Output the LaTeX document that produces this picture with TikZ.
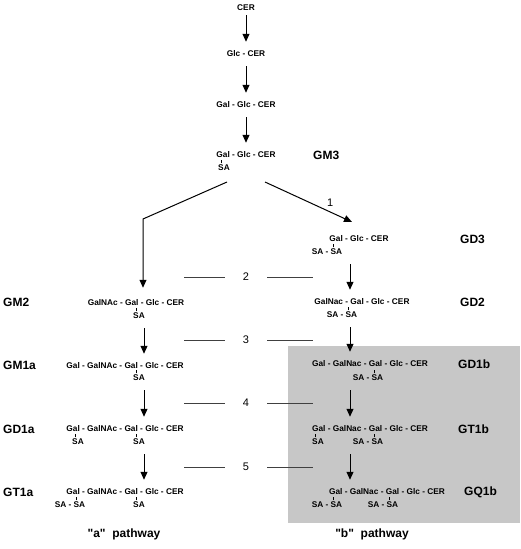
\documentclass[tikz,border=0pt]{standalone}
\usepackage{fontspec}
\setmainfont{Liberation Sans}
\usetikzlibrary{arrows.meta}
\definecolor{boxgray}{RGB}{199,199,199}
\tikzset{
  sugar/.style={font=\bfseries\fontsize{8.3}{9}\selectfont, inner sep=0pt},
  gname/.style={font=\bfseries\fontsize{12}{14}\selectfont, inner sep=0pt, anchor=west},
  num/.style={font=\fontsize{11}{13}\selectfont, inner sep=0pt},
  arr/.style={line width=1pt, -{Triangle[width=7pt,length=8pt]}, shorten <=9pt, shorten >=9pt},
  rule/.style={line width=.9pt, black!75},
  bond/.style={line width=.6pt}
}
\begin{document}
\begin{tikzpicture}[x=1pt,y=-1pt]
    \useasboundingbox (0,0) rectangle (520,549);
    \fill[boxgray] (288,346) rectangle (520,523);
    \coordinate (colA) at (144,0);
    \coordinate (colB) at (350,0);
    % common trunk
    \node[sugar] (cer) at (246,8) {CER};
    \node[sugar] (glc) at (246,54) {Glc - CER};
    \node[sugar] (lac) at (246,105) {Gal - Glc - CER};
    \node[sugar] (gm3) at (246,155) {Gal - Glc - CER};
    \node[sugar] (gm3sa) at (224,168) {SA};
    \node[gname] (gm3n) at (313,155) {GM3};
    \draw[arr, shorten <=4pt] (cer) -- (glc);
    \draw[arr] (glc) -- (lac);
    \draw[arr] (lac) -- (gm3);
    \draw[bond] ([shift={(2.8pt,1.5pt)}]gm3sa.north west) -- ++(0,-3.5);
    % "a" pathway
    \node[sugar] (gm2) at (136,303) {GalNAc - Gal - Glc - CER};
    \node[sugar] (gm2sa) at (139,316) {SA};
    \node[gname] (gm2n) at (3,302) {GM2};
    \node[sugar] (gm1a) at (125,366) {Gal - GalNAc - Gal - Glc - CER};
    \node[sugar] (gm1asa) at (139,378) {SA};
    \node[gname] (gm1an) at (3,365) {GM1a};
    \node[sugar] (gd1a) at (125,429) {Gal - GalNAc - Gal - Glc - CER};
    \node[sugar] (gd1asa) at (78,442) {SA};
    \node[sugar] (gd1asb) at (139,442) {SA};
    \node[gname] (gd1an) at (3,429) {GD1a};
    \node[sugar] (gt1a) at (125,492) {Gal - GalNAc - Gal - Glc - CER};
    \node[sugar] (gt1asa) at (70,505) {SA - SA};
    \node[sugar] (gt1asb) at (139,505) {SA};
    \node[gname] (gt1an) at (3,492) {GT1a};
    \node[gname, anchor=base] (apath) at (124,537) {\textquotedbl a\textquotedbl\ \ pathway};
    \draw[bond] ([shift={(2.8pt,1.5pt)}]gm2sa.north west) -- ++(0,-3.5);
    \draw[bond] ([shift={(2.8pt,1.5pt)}]gm1asa.north west) -- ++(0,-3.5);
    \draw[bond] ([shift={(2.8pt,1.5pt)}]gd1asa.north west) -- ++(0,-3.5);
    \draw[bond] ([shift={(2.8pt,1.5pt)}]gd1asb.north west) -- ++(0,-3.5);
    \draw[bond] ([shift={(-8.8pt,1.5pt)}]gt1asa.north east) -- ++(0,-3.5);
    \draw[bond] ([shift={(2.8pt,1.5pt)}]gt1asb.north west) -- ++(0,-3.5);
    \coordinate (forkL) at (227,182);
    \coordinate (bendA) at (143,219);
    \draw[arr, shorten <=0pt, shorten >=12pt] (forkL) -- (bendA) -- (bendA |- gm2.north);
    \draw[arr] (gm2sa.south -| colA) -- (gm1a.north -| colA);
    \draw[arr] (gm1asa.south -| colA) -- (gd1a.north -| colA);
    \draw[arr] (gd1asb.south -| colA) -- (gt1a.north -| colA);
    % "b" pathway
    \node[sugar] (gd3) at (359,239) {Gal - Glc - CER};
    \node[sugar] (gd3sa) at (327,252) {SA - SA};
    \node[gname] (gd3n) at (460,239) {GD3};
    \node[sugar] (gd2) at (362,302) {GalNac - Gal - Glc - CER};
    \node[sugar] (gd2sa) at (342,315) {SA - SA};
    \node[gname] (gd2n) at (460,302) {GD2};
    \node[sugar] (gd1b) at (370,364) {Gal - GalNac - Gal - Glc - CER};
    \node[sugar] (gd1bsa) at (368,378) {SA - SA};
    \node[gname] (gd1bn) at (458,364) {GD1b};
    \node[sugar] (gt1b) at (370,429) {Gal - GalNac - Gal - Glc - CER};
    \node[sugar] (gt1bsa) at (318,442) {SA};
    \node[sugar] (gt1bsb) at (368,442) {SA - SA};
    \node[gname] (gt1bn) at (458,429) {GT1b};
    \node[sugar] (gq1b) at (387,492) {Gal - GalNac - Gal - Glc - CER};
    \node[sugar] (gq1bsa) at (327,505) {SA - SA};
    \node[sugar] (gq1bsb) at (383,505) {SA - SA};
    \node[gname] (gq1bn) at (464,492) {GQ1b};
    \node[gname, anchor=base] (bpath) at (372,537) {\textquotedbl b\textquotedbl\ \ pathway};
    \draw[bond] ([shift={(-8.8pt,1.5pt)}]gd3sa.north east) -- ++(0,-3.5);
    \draw[bond] ([shift={(-8.8pt,1.5pt)}]gd2sa.north east) -- ++(0,-3.5);
    \draw[bond] ([shift={(-8.8pt,1.5pt)}]gd1bsa.north east) -- ++(0,-3.5);
    \draw[bond] ([shift={(2.8pt,1.5pt)}]gt1bsa.north west) -- ++(0,-3.5);
    \draw[bond] ([shift={(-8.8pt,1.5pt)}]gt1bsb.north east) -- ++(0,-3.5);
    \draw[bond] ([shift={(-8.8pt,1.5pt)}]gq1bsa.north east) -- ++(0,-3.5);
    \draw[bond] ([shift={(-8.8pt,1.5pt)}]gq1bsb.north east) -- ++(0,-3.5);
    \coordinate (forkR) at (265,182);
    \coordinate (tipB) at (352,222);
    \draw[arr, shorten <=0pt, shorten >=0pt] (forkR) -- node[num, pos=.75, above=5pt] (n1) {1} (tipB);
    \draw[arr] (gd3sa.south -| colB) -- (gd2.north -| colB);
    \draw[arr] (gd2sa.south -| colB) -- (gd1b.north -| colB);
    \draw[arr] (gd1bsa.south -| colB) -- (gt1b.north -| colB);
    \draw[arr] (gt1bsb.south -| colB) -- (gq1b.north -| colB);
    % enzyme steps
    \node[num] (n2) at (246,277) {2};
    \draw[rule] ([xshift=-18pt]n2.west) -- ++(-41,0);
    \draw[rule] ([xshift=18pt]n2.east) -- ++(46,0);
    \node[num] (n3) at (246,340) {3};
    \draw[rule] ([xshift=-18pt]n3.west) -- ++(-41,0);
    \draw[rule] ([xshift=18pt]n3.east) -- ++(46,0);
    \node[num] (n4) at (246,403) {4};
    \draw[rule] ([xshift=-18pt]n4.west) -- ++(-41,0);
    \draw[rule] ([xshift=18pt]n4.east) -- ++(46,0);
    \node[num] (n5) at (246,467) {5};
    \draw[rule] ([xshift=-18pt]n5.west) -- ++(-41,0);
    \draw[rule] ([xshift=18pt]n5.east) -- ++(46,0);
\end{tikzpicture}
\end{document}
